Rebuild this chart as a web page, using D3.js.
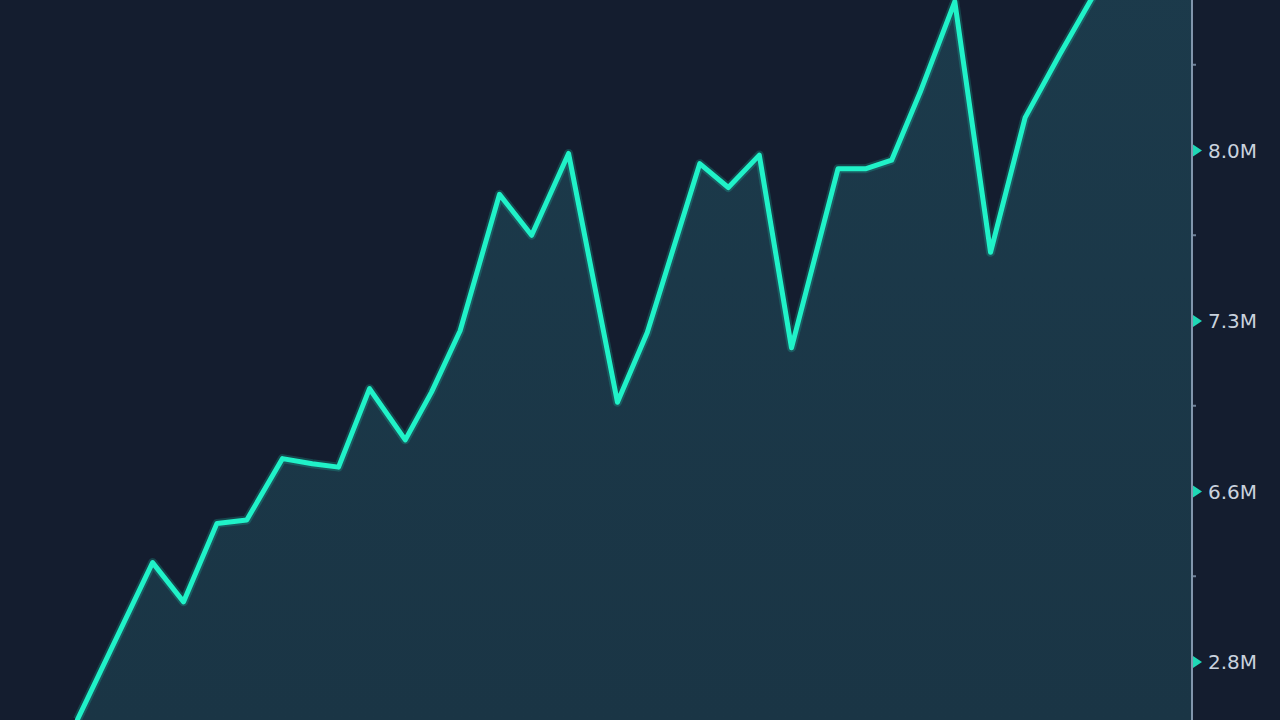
<!DOCTYPE html>
<html>
<head>
<meta charset="utf-8">
<script src="https://cdn.jsdelivr.net/npm/d3@7"></script>
<style>
  html, body { margin: 0; padding: 0; background: #141d2f; }
  svg { display: block; }
</style>
</head>
<body>
<svg id="chart" width="1280" height="720"></svg>
<script>
// ---- data ----
const periods = [6.5, 12.8, 15.4, 18.2, 20.7, 23.7, 26.2, 28.4, 31.0, 34.0, 36.2, 38.6,
  41.9, 44.6, 47.7, 51.8, 54.3, 58.7, 61.1, 63.7, 66.4, 70.3, 72.6, 74.8, 77.2, 80.1,
  83.1, 86.0, 88.9, 91.6, 94.8, 100];
const values = [0.66, 1.58, 1.35, 1.81, 1.83, 2.19, 2.16, 2.14, 2.60, 2.30, 2.58, 2.94,
  3.74, 3.50, 3.98, 2.52, 2.93, 3.92, 3.78, 3.97, 2.84, 3.89, 3.89, 3.94, 4.34, 4.87,
  3.40, 4.19, 4.56, 4.89, 5.29, 5.88];
const tickValues = [4, 3, 2, 1];
const tickLabels = ["8.0M", "7.3M", "6.6M", "2.8M"];
const minorTickValues = [4.5, 3.5, 2.5, 1.5];

const data = periods.map((p, i) => ({ x: p, y: values[i] }));

const W = 1280, H = 720;
const axisX = 1192;
const svg = d3.select("#chart");

const x = d3.scaleLinear().domain([0, 100]).range([0, axisX]);
const y = d3.scaleLinear().domain([0, 4]).range([832, 150]);

const defs = svg.append("defs");
defs.append("clipPath").attr("id", "plotClip")
  .append("rect").attr("x", 0).attr("y", 0).attr("width", axisX).attr("height", H);

const grad = defs.append("linearGradient").attr("id", "areaGrad")
  .attr("x1", 0).attr("y1", 0).attr("x2", 0).attr("y2", 1);
grad.append("stop").attr("offset", "0%").attr("stop-color", "#1c3b4c");
grad.append("stop").attr("offset", "100%").attr("stop-color", "#1a3545");

svg.append("rect").attr("width", W).attr("height", H).attr("fill", "#141d2f");

const plot = svg.append("g").attr("clip-path", "url(#plotClip)");

const area = d3.area()
  .x(d => x(d.x))
  .y0(H)
  .y1(d => y(d.y));

const line = d3.line()
  .x(d => x(d.x))
  .y(d => y(d.y));

plot.append("path").datum(data)
  .attr("d", area)
  .attr("fill", "url(#areaGrad)");

plot.append("path").datum(data)
  .attr("d", line)
  .attr("fill", "none")
  .attr("stroke", "#1de8c2")
  .attr("stroke-opacity", 0.2)
  .attr("stroke-width", 9)
  .attr("stroke-linejoin", "round");

plot.append("path").datum(data)
  .attr("d", line)
  .attr("fill", "none")
  .attr("stroke", "#20f2c8")
  .attr("stroke-width", 5)
  .attr("stroke-linejoin", "round")
  .attr("stroke-linecap", "round");

// right axis
const axis = d3.axisRight(y)
  .tickValues(tickValues)
  .tickSize(0)
  .tickPadding(16)
  .tickFormat((d, i) => tickLabels[i]);

const gAxis = svg.append("g")
  .attr("transform", `translate(${axisX},0)`)
  .call(axis);

gAxis.select(".domain").remove();
gAxis.append("line")
  .attr("x1", 0).attr("x2", 0).attr("y1", 0).attr("y2", H)
  .attr("stroke", "#8196ad").attr("stroke-width", 2);

gAxis.selectAll(".tick text")
  .attr("fill", "#c9d2de")
  .attr("font-family", "DejaVu Sans, sans-serif")
  .attr("font-size", 20)
  .attr("dy", "0.35em");

gAxis.selectAll(".tick").append("path")
  .attr("d", "M1,-6 L10,0 L1,6 Z")
  .attr("fill", "#1fd8b6");

gAxis.selectAll(".minor")
  .data(minorTickValues)
  .enter().append("line")
  .attr("class", "minor")
  .attr("x1", 1).attr("x2", 4)
  .attr("y1", d => y(d)).attr("y2", d => y(d))
  .attr("stroke", "#6f8299").attr("stroke-width", 2);
</script>
</body>
</html>
